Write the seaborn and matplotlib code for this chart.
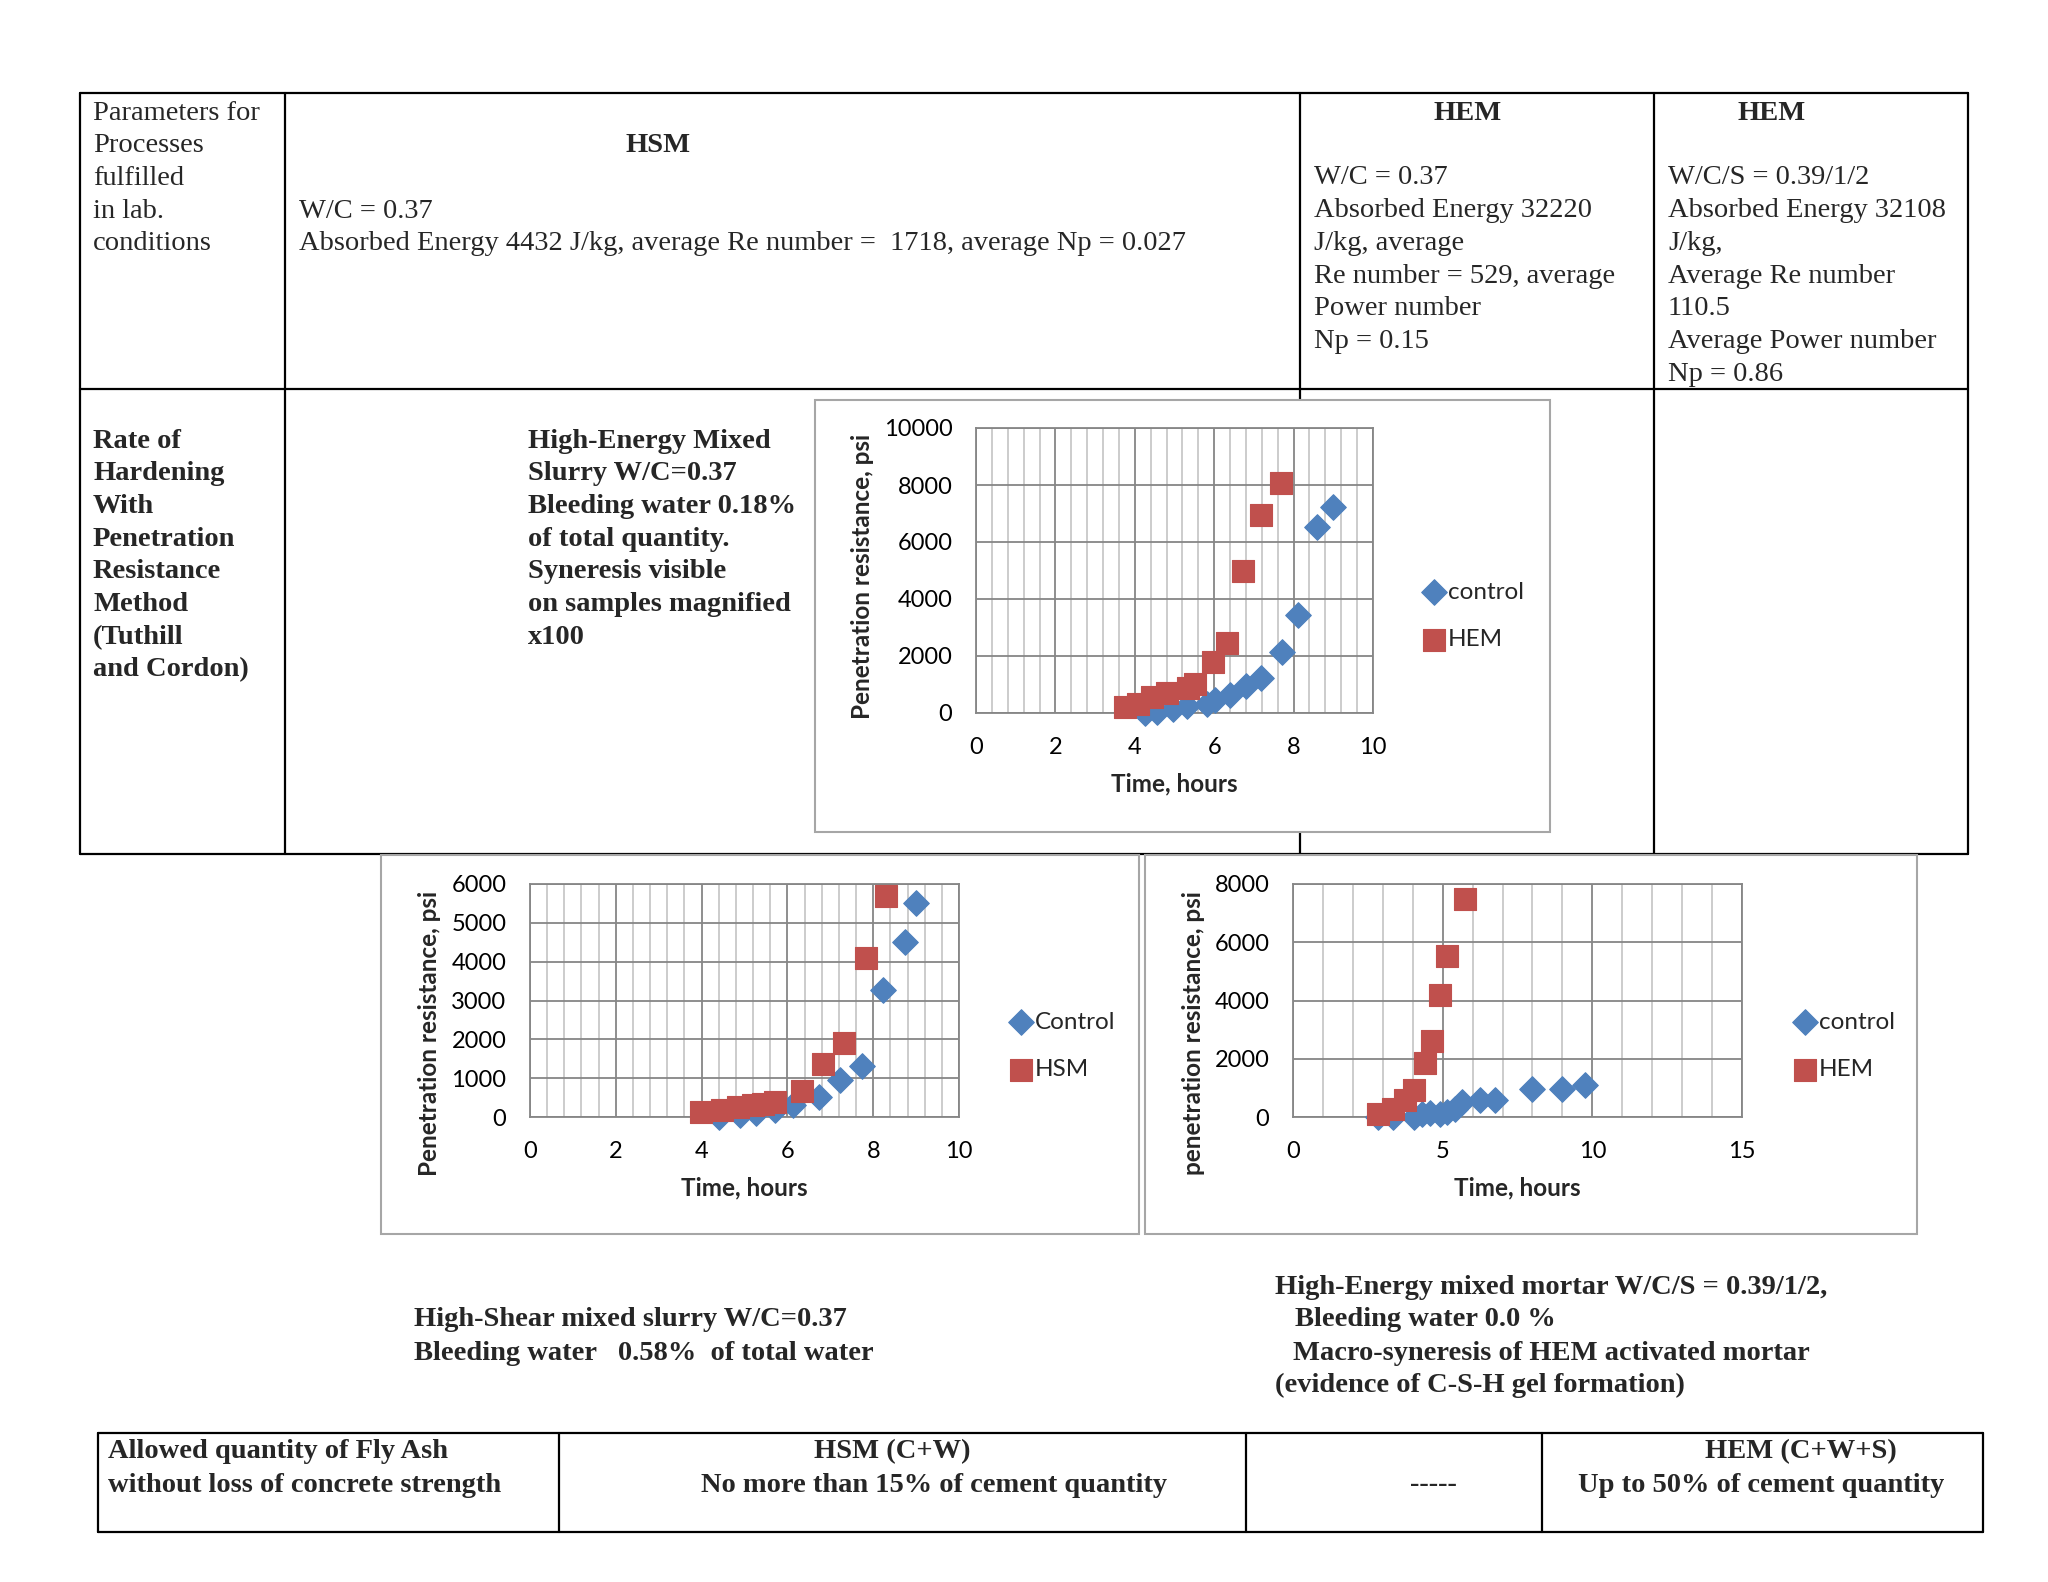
import matplotlib
matplotlib.use("Agg")
import matplotlib.pyplot as plt
from matplotlib.lines import Line2D
from matplotlib.patches import Rectangle
from matplotlib.ticker import MultipleLocator
import seaborn as sns

W, H = 2048, 1582

# ---- chart data ----
top_ctrl_t = [4.26, 4.55, 4.95, 5.32, 5.83, 6.01, 6.40, 6.81, 7.19, 7.70, 8.11, 8.58, 9.00]
top_ctrl_p = [0, 35, 150, 235, 330, 450, 620, 940, 1245, 2130, 3440, 6530, 7240]
top_hem_t = [3.75, 4.08, 4.43, 4.81, 5.34, 5.52, 5.97, 6.31, 6.73, 7.17, 7.68]
top_hem_p = [210, 330, 560, 700, 890, 1030, 1800, 2440, 5000, 6930, 8080]

bl_ctrl_t = [4.41, 4.89, 5.26, 5.71, 6.13, 6.73, 7.23, 7.73, 8.24, 8.73, 9.00]
bl_ctrl_p = [0, 60, 110, 170, 320, 515, 960, 1315, 3275, 4505, 5510]
bl_hsm_t = [3.99, 4.48, 4.86, 5.20, 5.43, 5.71, 6.33, 6.82, 7.32, 7.83, 8.31]
bl_hsm_p = [130, 170, 260, 320, 345, 390, 670, 1375, 1910, 4085, 5700]

br_ctrl_t = [2.84, 3.33, 4.04, 4.32, 4.57, 4.90, 5.15, 5.40, 5.64, 6.25, 6.75, 8.00, 9.00, 9.74]
br_ctrl_p = [0, 0, 0, 115, 140, 115, 170, 290, 515, 575, 575, 975, 975, 1090]
br_hem_t = [2.84, 3.33, 3.75, 4.04, 4.41, 4.65, 4.90, 5.15, 5.73]
br_hem_p = [115, 290, 570, 920, 1870, 2610, 4200, 5520, 7480]

BLUE = "#4F81BD"
RED = "#C0504D"
SERIF = ["Liberation Serif", "DejaVu Serif"]
SANS = ["Lato", "DejaVu Sans"]

sns.set_style("white")
plt.rcParams["font.family"] = SANS

fig = plt.figure(figsize=(W / 100, H / 100), dpi=100)


def fx(x):
    return x / W


def fy(y):
    return 1 - y / H


def hline(x0, x1, y, lw=1.6, color="black"):
    fig.add_artist(Line2D([fx(x0), fx(x1)], [fy(y), fy(y)], color=color, lw=lw, zorder=0.5))


def vline(x, y0, y1, lw=1.6, color="black"):
    fig.add_artist(Line2D([fx(x), fx(x)], [fy(y0), fy(y1)], color=color, lw=lw, zorder=0.5))


def txt(x, y, s, size=20.5, bold=False, ha="left"):
    fig.text(fx(x), fy(y), s, fontsize=size, family=SERIF, ha=ha, va="center",
             fontweight="bold" if bold else "normal", zorder=3)


# ---- top table ----
hline(80, 1968, 93)
hline(80, 1968, 389)
hline(80, 1968, 854)
for xx in [80, 285, 1300, 1654, 1968]:
    vline(xx, 93, 854)

for i, s in enumerate(["Parameters for", "Processes", "fulfilled", "in lab.", "conditions"]):
    txt(93, 113 + i * 32.7, s)
txt(658, 146, "HSM", bold=True, ha="center")
txt(299, 211, "W/C = 0.37")
txt(299, 244, "Absorbed Energy 4432 J/kg, average Re number =  1718, average Np = 0.027")
txt(1468, 113, "HEM", bold=True, ha="center")
for i, s in enumerate(["W/C = 0.37", "Absorbed Energy 32220", "J/kg, average",
                       "Re number = 529, average", "Power number", "Np = 0.15"]):
    txt(1314, 178 + i * 32.7, s)
txt(1772, 113, "HEM", bold=True, ha="center")
for i, s in enumerate(["W/C/S = 0.39/1/2", "Absorbed Energy 32108", "J/kg,",
                       "Average Re number", "110.5", "Average Power number", "Np = 0.86"]):
    txt(1668, 178 + i * 32.7, s)

for i, s in enumerate(["Rate of", "Hardening", "With", "Penetration", "Resistance",
                       "Method", "(Tuthill", "and Cordon)"]):
    txt(93, 441 + i * 32.7, s, bold=True)
for i, s in enumerate(["High-Energy Mixed", "Slurry W/C=0.37", "Bleeding water 0.18%",
                       "of total quantity.", "Syneresis visible", "on samples magnified", "x100"]):
    txt(528, 441 + i * 32.7, s, bold=True)

# ---- captions under the lower charts ----
txt(414, 1320, "High-Shear mixed slurry W/C=0.37", bold=True)
txt(414, 1353, "Bleeding water   0.58%  of total water", bold=True)
txt(1275, 1287, "High-Energy mixed mortar W/C/S = 0.39/1/2,", bold=True)
txt(1295, 1320, "Bleeding water 0.0 %", bold=True)
txt(1293, 1353, "Macro-syneresis of HEM activated mortar", bold=True)
txt(1275, 1385, "(evidence of C-S-H gel formation)", bold=True)

# ---- bottom table ----
hline(98, 1983, 1433)
hline(98, 1983, 1532)
for xx in [98, 559, 1246, 1542, 1983]:
    vline(xx, 1433, 1532)
txt(108, 1452, "Allowed quantity of Fly Ash", bold=True)
txt(108, 1485, "without loss of concrete strength", bold=True)
txt(892, 1452, "HSM (C+W)", bold=True, ha="center")
txt(934, 1485, "No more than 15% of cement quantity", bold=True, ha="center")
txt(1433, 1485, "-----", bold=True, ha="center")
txt(1801, 1452, "HEM (C+W+S)", bold=True, ha="center")
txt(1761, 1485, "Up to 50% of cement quantity", bold=True, ha="center")


# ---- charts ----
def chart_box(x0, y0, x1, y1):
    fig.add_artist(Rectangle((fx(x0), fy(y1)), fx(x1 - x0), (y1 - y0) / H,
                             facecolor="white", edgecolor="#A6A6A6", lw=1.5, zorder=1))


def chart(plot, box, ymax, ystep, xmax, xmaj, xmin, series, ylabel, ylab_xy, leg_xy):
    chart_box(*box)
    x0, y0, x1, y1 = plot
    ax = fig.add_axes([fx(x0), fy(y1), fx(x1 - x0), (y1 - y0) / H])
    ax.set_zorder(2)
    for (t, p, lab, col, mk, sz) in series:
        sns.scatterplot(x=t, y=p, ax=ax, marker=mk, color=col, s=sz, label=lab,
                        edgecolor=col, linewidth=0.8, clip_on=False, zorder=3)
    ax.set_xlim(0, xmax)
    ax.set_ylim(0, ymax)
    ax.xaxis.set_major_locator(MultipleLocator(xmaj))
    ax.xaxis.set_minor_locator(MultipleLocator(xmin))
    ax.yaxis.set_major_locator(MultipleLocator(ystep))
    ax.grid(which="major", color="#868686", lw=1.3)
    ax.grid(which="minor", axis="x", color="#BFBFBF", lw=1.1)
    ax.set_axisbelow(True)
    for sp in ax.spines.values():
        sp.set_color("#868686")
        sp.set_linewidth(1.3)
    ax.tick_params(which="both", length=0, labelsize=17, colors="black")
    ax.tick_params(axis="x", pad=17)
    ax.tick_params(axis="y", pad=17)
    ax.set_xlabel("Time, hours", fontsize=17.5, fontweight="bold", labelpad=11)
    ax.set_ylabel(ylabel, fontsize=17.5, fontweight="bold")
    ax.yaxis.set_label_coords(*ylab_xy)
    ax.legend(loc="center left", bbox_to_anchor=(fx(leg_xy[0]), fy(leg_xy[1])),
              bbox_transform=fig.transFigure, frameon=False, fontsize=17.5,
              handletextpad=0.05, labelspacing=1.1, handlelength=1.0, borderpad=0)
    return ax


chart((976, 428, 1373, 713), (815, 400, 1550, 832), 10000, 2000, 10, 2, 0.4,
      [(top_ctrl_t, top_ctrl_p, "control", BLUE, "D", 170),
       (top_hem_t, top_hem_p, "HEM", RED, "s", 240)],
      "Penetration resistance, psi", (-0.257, 0.48), (1410, 616))

chart((530, 884, 959, 1117), (381, 855, 1139, 1234), 6000, 1000, 10, 2, 0.4,
      [(bl_ctrl_t, bl_ctrl_p, "Control", BLUE, "D", 170),
       (bl_hsm_t, bl_hsm_p, "HSM", RED, "s", 240)],
      "Penetration resistance, psi", (-0.207, 0.36), (997, 1046))

chart((1293, 884, 1742, 1117), (1145, 855, 1917, 1234), 8000, 2000, 15, 5, 1,
      [(br_ctrl_t, br_ctrl_p, "control", BLUE, "D", 170),
       (br_hem_t, br_hem_p, "HEM", RED, "s", 240)],
      "penetration resistance, psi", (-0.196, 0.36), (1781, 1046))

fig.savefig("out.png", dpi=100, facecolor="white")
